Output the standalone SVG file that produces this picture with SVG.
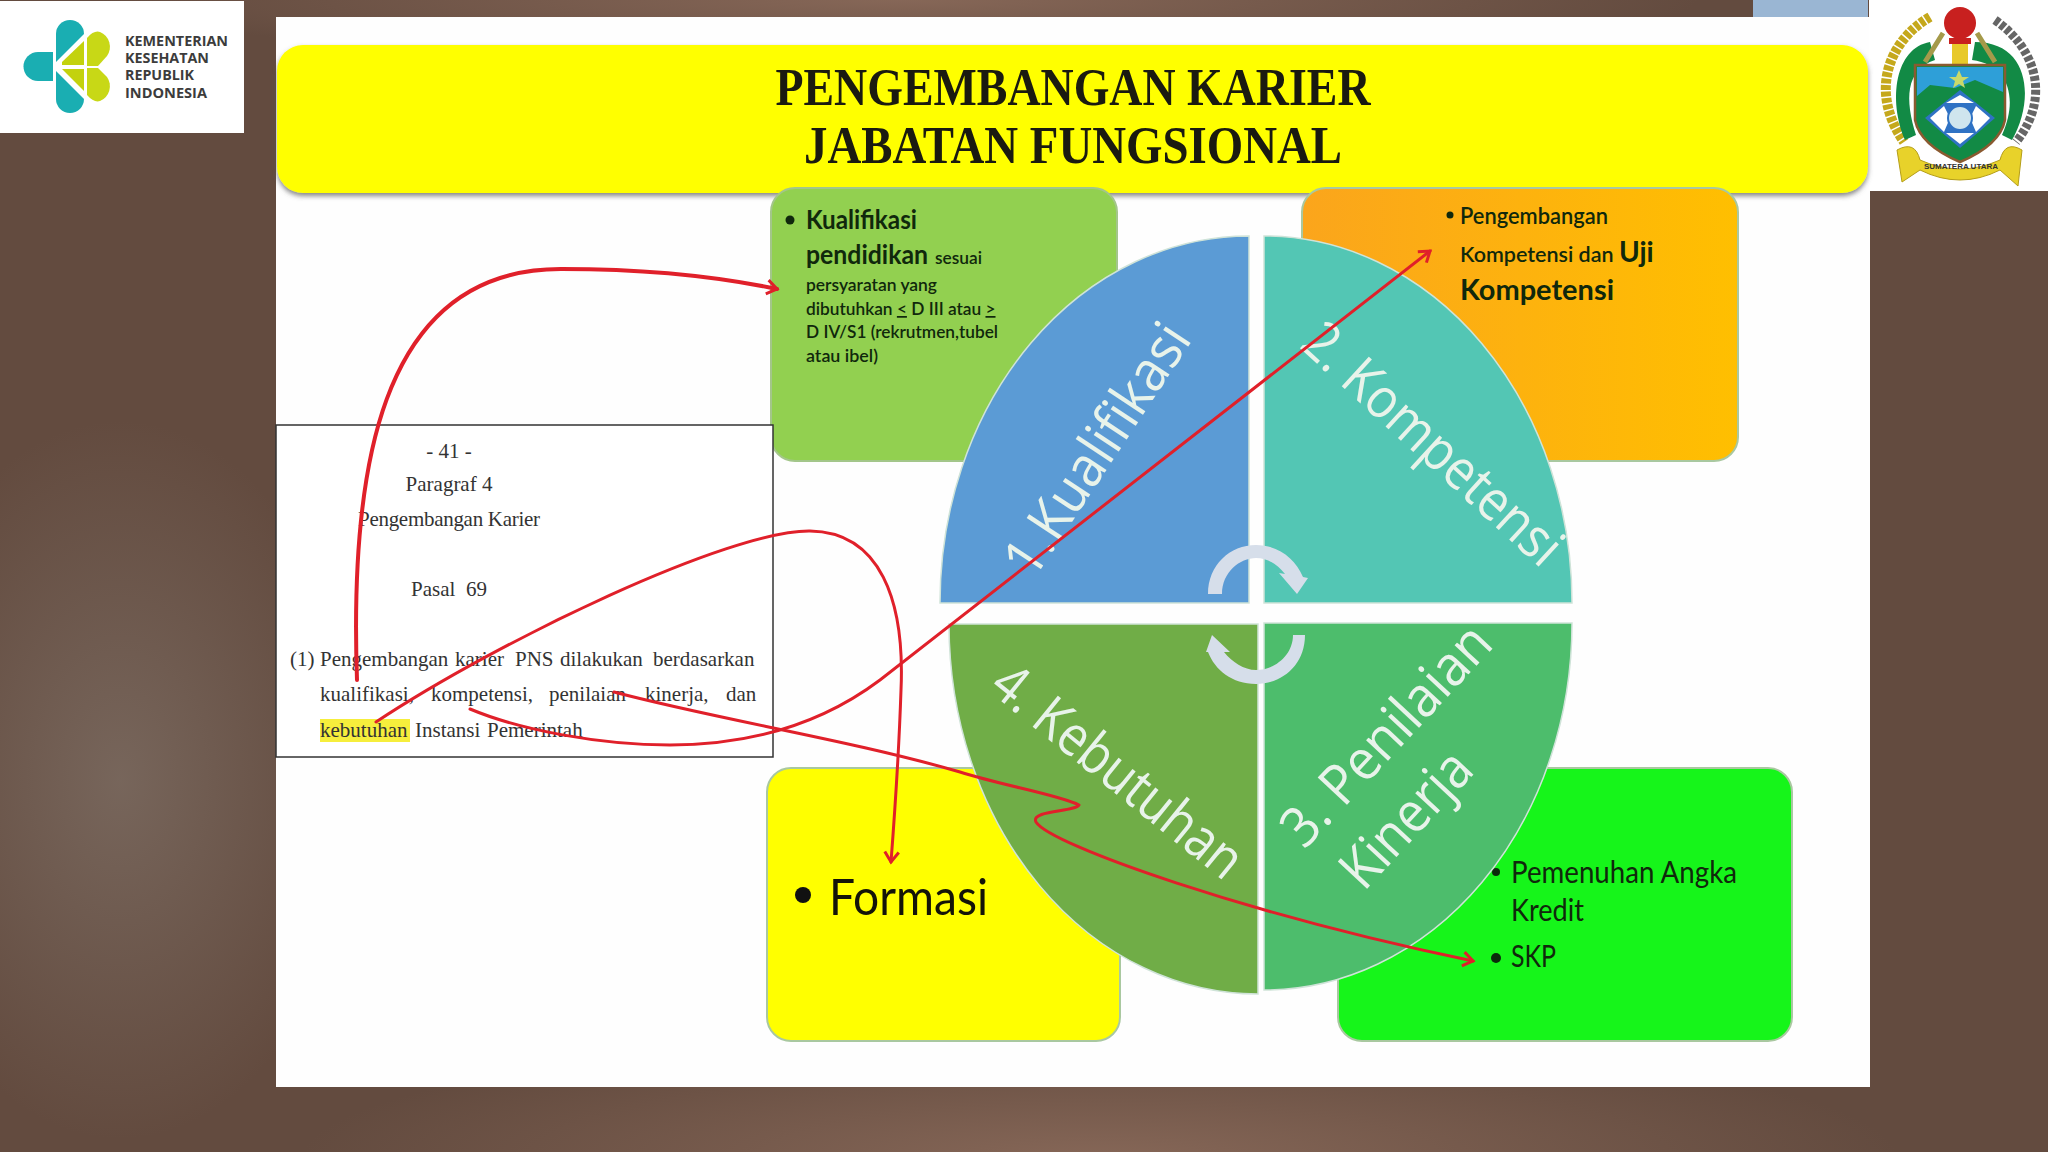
<svg xmlns="http://www.w3.org/2000/svg" width="2048" height="1152" viewBox="0 0 2048 1152">
<style>
.card{stroke-width:2}
.c{font-family:Lato,"Open Sans","Liberation Sans",sans-serif;fill:#10280c}
.b{font-weight:700}
.d{font-family:"Liberation Serif","DejaVu Serif",serif;font-size:21px;fill:#333}
.q{font-family:"Open Sans",Lato,"Liberation Sans",sans-serif;font-size:56px;fill:#e8f3ea}
.t{font-family:"Liberation Serif","DejaVu Serif",serif;font-weight:700;font-size:52px;fill:#1a1a10}
.l{font-family:"Open Sans","Liberation Sans",sans-serif;font-weight:700;font-size:14px;fill:#3c3c3c}
.a{fill:none;stroke:#e0202a;stroke-width:3;marker-end:url(#h);stroke-linecap:round;stroke-linejoin:round}
</style>
<defs>
<radialGradient id="g1"><stop offset="0" stop-color="#8b8077" stop-opacity=".5"/><stop offset="1" stop-color="#8b8077" stop-opacity="0"/></radialGradient>
<radialGradient id="g2"><stop offset="0" stop-color="#8a6a5a" stop-opacity=".9"/><stop offset="1" stop-color="#8a6a5a" stop-opacity="0"/></radialGradient>
<linearGradient id="or" x1="0" y1="0" x2="1" y2="0"><stop offset="0" stop-color="#fba51c"/><stop offset="1" stop-color="#ffbf00"/></linearGradient>
<filter id="s" x="-5%" y="-10%" width="110%" height="125%"><feDropShadow dx="0" dy="3" stdDeviation="2.5" flood-color="#555" flood-opacity=".7"/></filter>
<marker id="h" markerWidth="20" markerHeight="20" refX="13" refY="9" orient="auto" markerUnits="userSpaceOnUse"><path d="M3 2 L13 9 L3 16" fill="none" stroke="#e0202a" stroke-width="3"/></marker>
</defs>
<g id="background">
<rect width="2048" height="1152" fill="#634b3f"/>
<ellipse cx="120" cy="780" rx="240" ry="360" fill="url(#g1)"/>
<ellipse cx="1100" cy="1160" rx="800" ry="130" fill="url(#g2)"/>
<ellipse cx="900" cy="0" rx="800" ry="60" fill="url(#g2)"/>
<rect x="1753" y="0" width="115" height="17" fill="#9ab6d3"/>
<rect x="276" y="17" width="1594" height="1070" fill="#fefefe"/>
</g>
<g id="logo-kemenkes">
<rect x="0" y="1" width="244" height="132" fill="#fff"/>
<path d="M56 62V34A14 14 0 0 1 84 34Z" fill="#1aaeb2"/>
<path d="M53 52H38A14.5 14.5 0 0 0 38 81H53Z" fill="#1aaeb2"/>
<path d="M56 71L84 99A14 14 0 0 1 56 99Z" fill="#1aaeb2"/>
<path d="M62 62L84 41V65H62Z" fill="#c3d20e"/>
<path d="M62 69H84V91Z" fill="#c3d20e"/>
<path d="M87 38Q94 30 100 32A16 16 0 0 1 107 56L98 66H87Z" fill="#c8d816"/>
<path d="M87 95Q94 103 100 101A16 16 0 0 0 107 77L98 68H87Z" fill="#c8d816"/>
<text class="l" x="125" y="46" textLength="103" lengthAdjust="spacingAndGlyphs">KEMENTERIAN</text>
<text class="l" x="125" y="63" textLength="84" lengthAdjust="spacingAndGlyphs">KESEHATAN</text>
<text class="l" x="125" y="80" textLength="69" lengthAdjust="spacingAndGlyphs">REPUBLIK</text>
<text class="l" x="125" y="98" textLength="82" lengthAdjust="spacingAndGlyphs">INDONESIA</text>
</g>
<g id="logo-sumut">
<rect x="1869" y="0" width="179" height="191" fill="#fff"/>
<path d="M1930 17C1890 40 1868 90 1904 142" fill="none" stroke="#c5a81c" stroke-width="10" stroke-dasharray="5 1.5"/>
<path d="M1995 20C2038 50 2050 100 2016 142" fill="none" stroke="#666" stroke-width="9" stroke-dasharray="5 2"/>
<path d="M1930 42C1895 48 1888 100 1905 140L1916 135C1905 100 1905 70 1935 60Z" fill="#128a45"/>
<path d="M1975 42C2030 42 2035 100 2012 140L2002 135C2018 100 2010 65 1972 60Z" fill="#128a45"/>
<path d="M1943 33L1925 62M1977 33L1995 62" stroke="#a59a4a" stroke-width="5"/>
<rect x="1952" y="38" width="16" height="27" fill="#e8c92a"/>
<circle cx="1960" cy="23" r="16" fill="#c8201f"/>
<rect x="1949" y="38" width="22" height="6" fill="#c8201f"/>
<path d="M1915 65H2005V120Q2000 145 1960 162Q1920 145 1915 120Z" fill="#128a45" stroke="#8a5a30" stroke-width="2.5"/>
<path d="M1917 67H2003V92L1975 80L1955 88L1930 85L1917 96Z" fill="#2e9fd8"/>
<path d="M1959 70L1962 77L1969 77L1963 81L1965 88L1959 84L1953 88L1955 81L1949 77L1956 77Z" fill="#c9d96a"/>
<path d="M1925 118L1960 90L1995 118L1960 148Z" fill="#2f72c4"/>
<path d="M1930 118L1944 106L1950 118L1944 132Z M1990 118L1976 106L1970 118L1976 132Z M1960 95L1974 103H1946Z M1960 144L1974 133H1946Z" fill="#fff"/>
<circle cx="1960" cy="118" r="12" fill="#cfe5ee" stroke="#2f72c4" stroke-width="2"/>
<path d="M1897 150Q1915 140 1920 160Q1960 178 2000 160Q2005 140 2022 150L2018 186L2000 170Q1960 190 1920 170L1902 182Z" fill="#e8d22a" stroke="#b59e18" stroke-width="1"/>
<text x="1961" y="169" text-anchor="middle" font-family="Liberation Sans,sans-serif" font-size="8" font-weight="700" fill="#333">SUMATERA UTARA</text>
</g>
<g id="title">
<rect x="277" y="45" width="1591" height="148" rx="26" fill="#ffff00" filter="url(#s)"/>
<text class="t" x="1073" y="105" text-anchor="middle" textLength="595" lengthAdjust="spacingAndGlyphs">PENGEMBANGAN KARIER</text>
<text class="t" x="1073" y="163" text-anchor="middle" textLength="538" lengthAdjust="spacingAndGlyphs">JABATAN FUNGSIONAL</text>
</g>
<g id="card-kualifikasi">
<rect class="card" x="771" y="188" width="346" height="273" rx="24" fill="#92d050" stroke="#a3c68a"/>
<circle cx="790" cy="220" r="4.5" fill="#10280c"/>
<text class="c b" x="806" y="229" font-size="27" textLength="111" lengthAdjust="spacingAndGlyphs">Kualifikasi</text>
<text class="c b" x="806" y="264" font-size="27" textLength="122" lengthAdjust="spacingAndGlyphs">pendidikan</text>
<text class="c" x="935" y="264" font-size="18" font-weight="600" textLength="47" lengthAdjust="spacingAndGlyphs">sesuai</text>
<text class="c" font-weight="600" x="806" y="291" font-size="18" textLength="131" lengthAdjust="spacingAndGlyphs">persyaratan yang</text>
<text class="c" font-weight="600" x="806" y="315" font-size="17.3"><tspan>dibutuhkan </tspan><tspan text-decoration="underline">&lt;</tspan><tspan> D III atau </tspan><tspan text-decoration="underline">&gt;</tspan></text>
<text class="c" font-weight="600" x="806" y="338" font-size="18" textLength="192" lengthAdjust="spacingAndGlyphs">D IV/S1 (rekrutmen,tubel</text>
<text class="c" font-weight="600" x="806" y="362" font-size="18" textLength="72" lengthAdjust="spacingAndGlyphs">atau ibel)</text>
</g>
<g id="card-kompetensi">
<rect class="card" x="1302" y="188" width="436" height="273" rx="24" fill="url(#or)" stroke="#a9c8a0"/>
<circle cx="1450" cy="215" r="3.5" fill="#10280c"/>
<text class="c" font-weight="600" x="1460" y="224" font-size="22" textLength="148" lengthAdjust="spacingAndGlyphs">Pengembangan</text>
<text class="c" font-weight="600" x="1460" y="262" font-size="21.5">Kompetensi dan <tspan class="b" font-size="28">Uji</tspan></text>
<text class="c b" x="1460" y="300" font-size="28" textLength="154" lengthAdjust="spacingAndGlyphs">Kompetensi</text>
</g>
<g id="card-formasi">
<rect class="card" x="767" y="768" width="353" height="273" rx="24" fill="#ffff00" stroke="#a9c8a0"/>
<circle cx="803" cy="895" r="8" fill="#111"/>
<text class="c" x="829" y="915" font-size="50" textLength="159" lengthAdjust="spacingAndGlyphs" style="fill:#141408">Formasi</text>
</g>
<g id="card-penilaian">
<rect class="card" x="1338" y="768" width="454" height="273" rx="24" fill="#16f51a" stroke="#a9c8a0"/>
<circle cx="1496" cy="872" r="4" fill="#0b2a0b"/>
<text class="c" x="1511" y="883" font-size="30" textLength="226" lengthAdjust="spacingAndGlyphs">Pemenuhan Angka</text>
<text class="c" x="1511" y="921" font-size="30" textLength="73" lengthAdjust="spacingAndGlyphs">Kredit</text>
<circle cx="1496" cy="958" r="5" fill="#0b2a0b"/>
<text class="c" x="1511" y="967" font-size="30" textLength="45" lengthAdjust="spacingAndGlyphs">SKP</text>
</g>
<g id="q1"><path d="M1249 603H940A309 367 0 0 1 1249 236Z" fill="#5b9bd5" stroke="#cfe3d8" stroke-width="1.5"/>
<text class="q" transform="translate(1113 460) rotate(-56.5)" text-anchor="middle" textLength="290" lengthAdjust="spacingAndGlyphs">1.Kualifikasi</text></g>
<g id="q2"><path d="M1264 603H1572A308 367 0 0 0 1264 236Z" fill="#53c6b4" stroke="#cfe3d8" stroke-width="1.5"/>
<text class="q" transform="translate(1420 458) rotate(42.5)" text-anchor="middle" textLength="330" lengthAdjust="spacingAndGlyphs">2. Kompetensi</text></g>
<g id="q3"><path d="M1264 623H1572A308 367 0 0 1 1264 990Z" fill="#4dbd6c" stroke="#cfe3d8" stroke-width="1.5"/>
<text class="q" transform="translate(1400 748) rotate(-47)" text-anchor="middle" textLength="280" lengthAdjust="spacingAndGlyphs">3. Penilaian</text>
<text class="q" transform="translate(1420 832) rotate(-47)" text-anchor="middle" textLength="165" lengthAdjust="spacingAndGlyphs">Kinerja</text></g>
<g id="q4"><path d="M1258 624H949A309 370 0 0 0 1258 994Z" fill="#70ad47" stroke="#cfe3d8" stroke-width="1.5"/>
<text class="q" transform="translate(1106 786) rotate(39)" text-anchor="middle" textLength="305" lengthAdjust="spacingAndGlyphs">4. Kebutuhan</text></g>
<g id="cycle" fill="#d6deea">
<path d="M1208 594C1208 565 1230 545 1256 545C1278 545 1295 558 1303 577L1308 578L1297 594L1279 573L1285 574C1278 565 1268 558 1256 558C1240 558 1222 572 1222 594Z"/>
<path d="M1305 635C1305 665 1282 684 1256 684C1232 684 1215 670 1208 652L1206 652L1212 635L1230 652L1224 652C1232 662 1244 670 1256 670C1275 670 1293 655 1293 635Z"/>
</g>
<g id="document">
<rect x="276" y="425" width="497" height="332" fill="#fff" stroke="#333" stroke-width="1.5"/>
<rect x="320" y="719" width="90" height="23" fill="#f6ee3c"/>
<text class="d" x="449" y="458" text-anchor="middle">- 41 -</text>
<text class="d" x="449" y="491" text-anchor="middle">Paragraf 4</text>
<text class="d" x="449" y="526" text-anchor="middle" textLength="182">Pengembangan Karier</text>
<text class="d" x="449" y="596" text-anchor="middle" xml:space="preserve">Pasal  69</text>
<text class="d" x="290" y="666">(1)</text>
<text class="d" y="666"><tspan x="320">Pengembangan</tspan> <tspan x="455">karier</tspan> <tspan x="515">PNS</tspan> <tspan x="560">dilakukan</tspan> <tspan x="653">berdasarkan</tspan></text>
<text class="d" y="701"><tspan x="320">kualifikasi,</tspan> <tspan x="431">kompetensi,</tspan> <tspan x="549">penilaian</tspan> <tspan x="645">kinerja,</tspan> <tspan x="726">dan</tspan></text>
<text class="d" y="737"><tspan x="320">kebutuhan</tspan> <tspan x="415">Instansi</tspan> <tspan x="487">Pemerintah</tspan></text>
</g>
<g id="connectors">
<path class="a" style="stroke-width:4" d="M357 680C350 480 375 268 562 269C640 269 710 275 777 289"/>
<path class="a" d="M376 722C500 640 730 530 810 531C880 532 905 600 901 690C899 750 895 810 891 862"/>
<path class="a" d="M470 709C520 730 600 745 670 745C750 745 820 725 880 680L1430 251"/>
<path class="a" d="M614 692C720 720 850 740 960 772C1000 785 1060 795 1079 805C1075 812 1030 810 1036 822C1050 845 1250 915 1473 961"/>
</g>
</svg>
